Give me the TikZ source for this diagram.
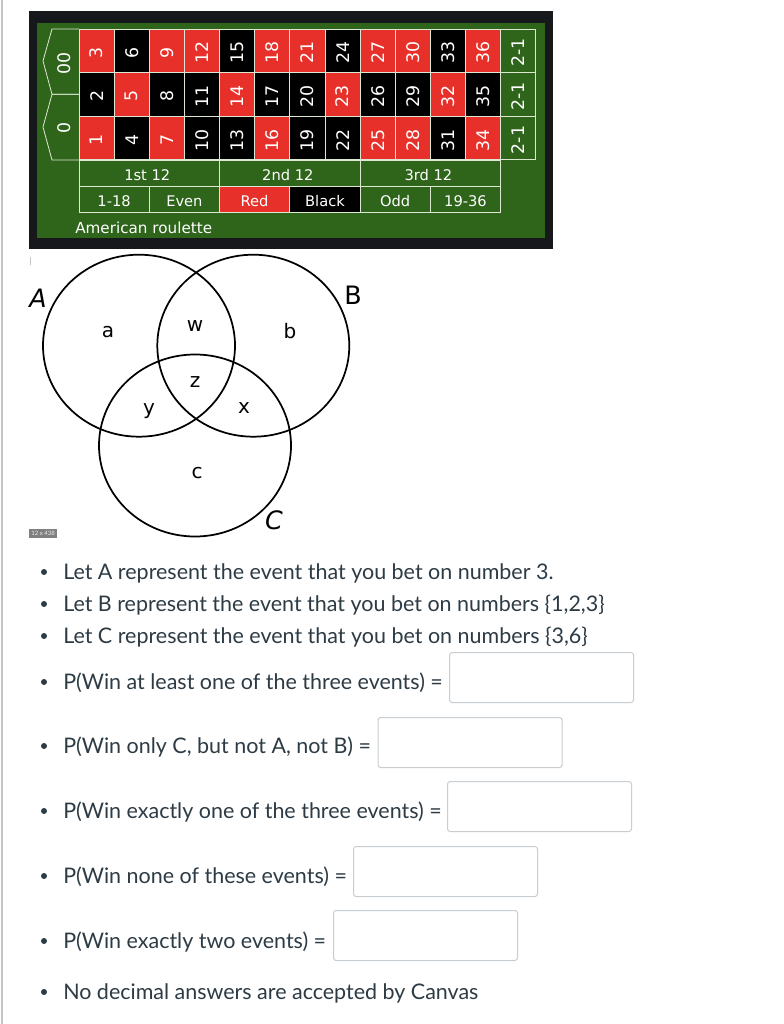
\documentclass[tikz,border=0pt]{standalone}
\usepackage{fontspec}
\usepackage{tikz}
\usetikzlibrary{shapes.geometric}
\setmainfont{Lato}
\newfontfamily\tablefont{DejaVu Sans}
\definecolor{feltgreen}{HTML}{2E651B}
\definecolor{framedark}{HTML}{16181C}
\definecolor{cellred}{HTML}{E8302A}
\definecolor{tableline}{HTML}{DCE8D2}
\definecolor{bodytext}{HTML}{2D3B45}
\definecolor{inputedge}{HTML}{C7CDD1}
\definecolor{sidegrey}{HTML}{C4C4C4}

\begin{document}
\begin{tikzpicture}[x=0.75pt,y=-0.75pt]
\tikzstyle{redcell}=[fill=cellred, draw=tableline, line width=0.6pt, rotate=90, minimum width=32.8pt, minimum height=26.35pt, inner sep=0pt, text=white, font=\tablefont\fontsize{13}{14}\selectfont, execute at end node={\kern3pt}]
\tikzstyle{blackcell}=[redcell, fill=black]
\tikzstyle{greencell}=[redcell, fill=feltgreen]
\tikzstyle{bet}=[draw=tableline, line width=0.6pt, fill=feltgreen, inner sep=0pt, minimum height=19.5pt, text height=10.2pt, text depth=0pt, text=white, font=\tablefont\fontsize{11}{12}\selectfont]
\tikzstyle{bigbet}=[bet, minimum width=105.4pt, execute at end node={\kern3pt}]
\tikzstyle{smallbet}=[bet, minimum width=52.7pt]
\tikzstyle{venn}=[ellipse, draw=black, line width=1.3pt, minimum width=144pt, minimum height=136.5pt, inner sep=0pt]
\tikzstyle{region}=[font=\tablefont\fontsize{15}{16}\selectfont, inner sep=0pt]
\tikzstyle{setname}=[font=\tablefont\fontsize{19}{20}\selectfont, inner sep=0pt]
\tikzstyle{item}=[anchor=base west, inner sep=0pt, text=bodytext, font=\fontsize{16.1}{20}\selectfont]
\tikzstyle{dot}=[circle, fill=bodytext, inner sep=0pt, minimum size=4.5pt]
\tikzstyle{inputbox}=[draw=inputedge, line width=0.75pt, rounded corners=2pt, fill=white, anchor=north west, minimum height=37.5pt, minimum width=138pt, inner sep=0pt]

\useasboundingbox (0,0) rectangle (784,1024);
\fill[white] (0,0) rectangle (784,1024);
\fill[sidegrey] (1,0) rectangle (3,1024);
\draw[sidegrey, line width=0.6pt] (30,257) -- (30,265);

% table
\fill[framedark] (29,11) rectangle (553,249);
\fill[feltgreen] (37,23) rectangle (545,238);

\draw[tableline, line width=0.6pt] (79,29) -- (52,29) -- (43,61) -- (52,94.3) -- (79,94.3);
\draw[tableline, line width=0.6pt] (79,94.3) -- (52,94.3) -- (43,127) -- (52,160) -- (79,160);
\node (n00) at (64,63) [rotate=90, text=white, font=\tablefont\fontsize{13}{14}\selectfont, inner sep=0pt] {00};
\node (n0) at (64,128) [rotate=90, text=white, font=\tablefont\fontsize{13}{14}\selectfont, inner sep=0pt] {0};

\node (n3) at (96.6,50.8) [redcell] {3};
\node (n6) at (131.7,50.8) [blackcell] {6};
\node (n9) at (166.9,50.8) [redcell] {9};
\node (n12) at (202,50.8) [redcell] {12};
\node (n15) at (237.1,50.8) [blackcell] {15};
\node (n18) at (272.3,50.8) [redcell] {18};
\node (n21) at (307.4,50.8) [redcell] {21};
\node (n24) at (342.6,50.8) [blackcell] {24};
\node (n27) at (377.7,50.8) [redcell] {27};
\node (n30) at (412.8,50.8) [redcell] {30};
\node (n33) at (448,50.8) [blackcell] {33};
\node (n36) at (483.1,50.8) [redcell] {36};
\node (top21) at (518.3,50.8) [greencell] {2-1};

\node (n2) at (96.6,94.4) [blackcell] {2};
\node (n5) at (131.7,94.4) [redcell] {5};
\node (n8) at (166.9,94.4) [blackcell] {8};
\node (n11) at (202,94.4) [blackcell] {11};
\node (n14) at (237.1,94.4) [redcell] {14};
\node (n17) at (272.3,94.4) [blackcell] {17};
\node (n20) at (307.4,94.4) [blackcell] {20};
\node (n23) at (342.6,94.4) [redcell] {23};
\node (n26) at (377.7,94.4) [blackcell] {26};
\node (n29) at (412.8,94.4) [blackcell] {29};
\node (n32) at (448,94.4) [redcell] {32};
\node (n35) at (483.1,94.4) [blackcell] {35};
\node (mid21) at (518.3,94.4) [greencell] {2-1};

\node (n1) at (96.6,138) [redcell] {1};
\node (n4) at (131.7,138) [blackcell] {4};
\node (n7) at (166.9,138) [redcell] {7};
\node (n10) at (202,138) [blackcell] {10};
\node (n13) at (237.1,138) [blackcell] {13};
\node (n16) at (272.3,138) [redcell] {16};
\node (n19) at (307.4,138) [blackcell] {19};
\node (n22) at (342.6,138) [blackcell] {22};
\node (n25) at (377.7,138) [redcell] {25};
\node (n28) at (412.8,138) [redcell] {28};
\node (n31) at (448,138) [blackcell] {31};
\node (n34) at (483.1,138) [redcell] {34};
\node (low21) at (518.3,138) [greencell] {2-1};

\node (first12) at (149.3,173.5) [bigbet] {1st 12};
\node (second12) at (289.8,173.5) [bigbet] {2nd 12};
\node (third12) at (430.4,173.5) [bigbet] {3rd 12};
\node (low18) at (114.1,199.5) [smallbet] {1-18};
\node (even) at (184.4,199.5) [smallbet] {Even};
\node (red) at (254.6,199.5) [smallbet, fill=cellred] {Red};
\node (black) at (325,199.5) [smallbet, fill=black] {Black};
\node (odd) at (395.2,199.5) [smallbet] {Odd};
\node (high36) at (465.5,199.5) [smallbet] {19-36};
\node (tablename) at (75,227.5) [anchor=west, inner sep=0pt, text=white, font=\tablefont\fontsize{11.4}{12}\selectfont] {American roulette};

% venn diagram
\node (setA) at (139,345.7) [venn] {};
\node (setB) at (253.3,345.7) [venn] {};
\node (setC) at (195,445.5) [venn] {};
\node (nameA) at (38,298) [setname, font=\tablefont\itshape\fontsize{19}{20}\selectfont] {A};
\node (nameB) at (353,295) [setname] {B};
\node (nameC) at (274,520) [setname, font=\tablefont\itshape\fontsize{19}{20}\selectfont] {C};
\node (ra) at (108,332) [region] {a};
\node (rw) at (195,326) [region] {w};
\node (rb) at (290,331) [region] {b};
\node (rz) at (195,382) [region] {z};
\node (ry) at (149,411) [region] {y};
\node (rx) at (244,408) [region] {x};
\node (rc) at (197,473) [region] {c};
\node (sizetag) at (43,533.5) [fill=gray, text=white!85!gray, inner sep=0pt, minimum width=21pt, minimum height=6.5pt, font=\fontsize{4.5}{5}\selectfont] {12 x 438};

% questions
\node (d1) at (44,572) [dot] {};
\node (d2) at (44,604) [dot] {};
\node (d3) at (44,636) [dot] {};
\node (d4) at (44,682) [dot] {};
\node (d5) at (44,746) [dot] {};
\node (d6) at (44,811) [dot] {};
\node (d7) at (44,876) [dot] {};
\node (d8) at (44,941) [dot] {};
\node (d9) at (44,992) [dot] {};

\node (q1) at (63,579) [item] {Let A represent the event that you bet on number 3.};
\node (q2) at (63,611) [item] {Let B represent the event that you bet on numbers \{1,2,3\}};
\node (q3) at (63,643) [item] {Let C represent the event that you bet on numbers \{3,6\}};
\node (q4) at (63,689) [item] {P(Win at least one of the three events) =};
\node (q5) at (63,753) [item] {P(Win only C, but not A, not B) =};
\node (q6) at (63,818) [item] {P(Win exactly one of the three events) =};
\node (q7) at (63,883) [item] {P(Win none of these events) =};
\node (q8) at (63,948) [item] {P(Win exactly two events) =};
\node (q9) at (63,999) [item] {No decimal answers are accepted by Canvas};

\node (box1) at (449,652) [inputbox] {};
\node (box2) at (377.5,717) [inputbox] {};
\node (box3) at (447,781) [inputbox] {};
\node (box4) at (353,846) [inputbox] {};
\node (box5) at (333,910) [inputbox] {};
\end{tikzpicture}
\end{document}
